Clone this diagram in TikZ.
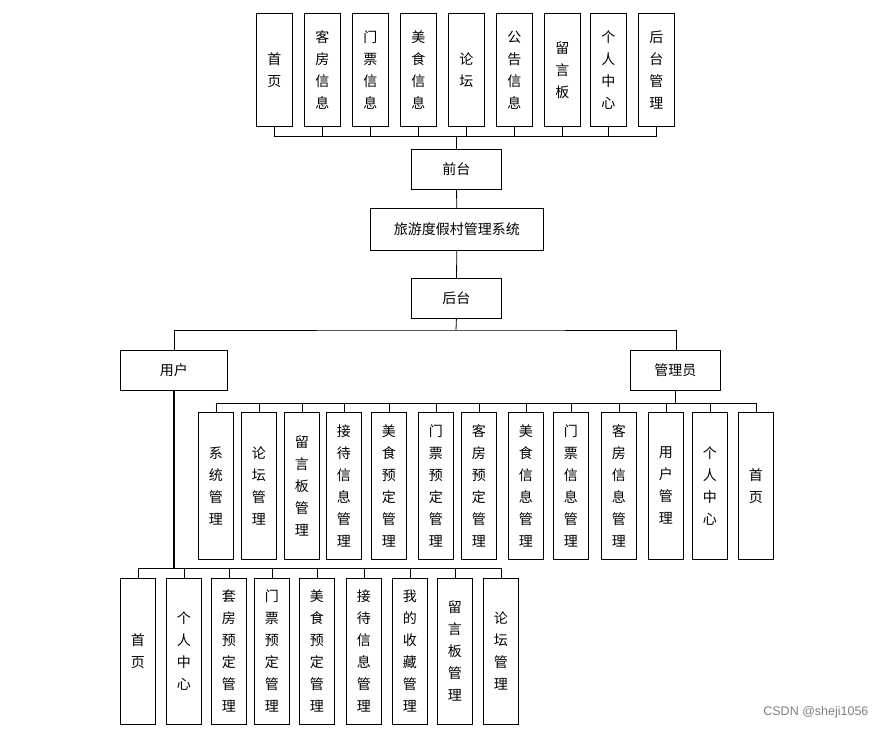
\documentclass[tikz,border=0pt]{standalone}
\usepackage{fontspec}
\usetikzlibrary{calc}
\newfontfamily\cjk{Noto Sans CJK SC}
\begin{document}
\begin{tikzpicture}[x=1pt,y=-1pt,
  bx/.style={draw,line width=0.8pt,inner sep=0pt,font=\cjk\fontsize{14}{22}\selectfont,align=center},
  ln/.style={line width=0.8pt}]
\useasboundingbox (0,0) rectangle (885,729);
% top row
\foreach \n/\x/\t in {t1/256/首\\页,t2/304/客\\房\\信\\息,t3/352/门\\票\\信\\息,t4/400/美\\食\\信\\息,t5/448/论\\坛,t6/496/公\\告\\信\\息,t7/544/留\\言\\板,t8/590/个\\人\\中\\心,t9/638/后\\台\\管\\理}{
  \node[bx,minimum width=36pt,minimum height=113pt,anchor=north west] (\n) at (\x,13) {\t};
  \draw[ln] (\n.south) -- ++(0,10);
}
\draw[ln] ($(t1.south)+(0,10)$) -- ($(t9.south)+(0,10)$);
\node[bx,minimum width=90pt,minimum height=40pt,anchor=north west] (qt) at (411,149) {前台};
\node[bx,minimum width=173pt,minimum height=42pt,anchor=north west] (sys) at (370,208) {旅游度假村管理系统};
\node[bx,minimum width=90pt,minimum height=40pt,anchor=north west] (ht) at (411,278) {后台};
\draw[ln] (qt.north) -- ++(0,-13);
\draw[ln] (qt) -- (sys);
\draw[ln] (sys) -- (ht);
\node[bx,minimum width=107pt,minimum height=40pt,anchor=north west] (yh) at (120,350) {用户};
\node[bx,minimum width=90pt,minimum height=40pt,anchor=north west] (gly) at (630,350) {管理员};
\coordinate (hb) at (456,330);
\draw[ln] (ht.south) -- (hb);
\draw[ln] (yh.north -| 174,0) |- (hb) -| (gly.north -| 676,0);
% admin row
\foreach \n/\x/\t in {a1/198/系\\统\\管\\理,a2/241/论\\坛\\管\\理,a3/284/留\\言\\板\\管\\理,a4/326/接\\待\\信\\息\\管\\理,a5/371/美\\食\\预\\定\\管\\理,a6/418/门\\票\\预\\定\\管\\理,a7/461/客\\房\\预\\定\\管\\理,a8/508/美\\食\\信\\息\\管\\理,a9/553/门\\票\\信\\息\\管\\理,a10/601/客\\房\\信\\息\\管\\理,a11/648/用\\户\\管\\理,a12/692/个\\人\\中\\心,a13/738/首\\页}{
  \node[bx,minimum width=35pt,minimum height=147pt,anchor=north west] (\n) at (\x,412) {\t};
  \draw[ln] (\n.north) -- ++(0,-9);
}
\draw[ln] ($(a1.north)+(0,-9)$) -- ($(a13.north)+(0,-9)$);
\draw[ln] (gly.south) -- ++(0,13);
% user row
\foreach \n/\x/\t in {u1/120/首\\页,u2/166/个\\人\\中\\心,u3/211/套\\房\\预\\定\\管\\理,u4/254/门\\票\\预\\定\\管\\理,u5/299/美\\食\\预\\定\\管\\理,u6/346/接\\待\\信\\息\\管\\理,u7/392/我\\的\\收\\藏\\管\\理,u8/437/留\\言\\板\\管\\理,u9/483/论\\坛\\管\\理}{
  \node[bx,minimum width=35pt,minimum height=146pt,anchor=north west] (\n) at (\x,578) {\t};
  \draw[ln] (\n.north) -- ++(0,-10);
}
\draw[ln] ($(u1.north)+(0,-10)$) -- ($(u9.north)+(0,-10)$);
\draw[line width=1.5pt] (yh.south -| 174,0) -- (174,568);
\node[font=\fontspec{Liberation Sans}\fontsize{12.5}{14}\selectfont,text=gray,anchor=east] (wm) at (872,712) {CSDN @sheji1056};
\end{tikzpicture}
\end{document}
